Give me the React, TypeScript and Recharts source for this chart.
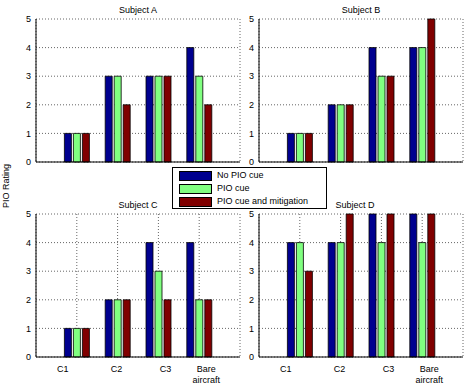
import { BarChart, Bar, XAxis, YAxis, CartesianGrid } from "recharts";

const CONFIGS = ["C1", "C2", "C3", "Bare\naircraft"];
const CONFIG_POS = [1, 2, 3, 4];
const X_TICKS = [0, 1, 2, 3, 4, 5];
const Y_TICKS = [0, 1, 2, 3, 4, 5];

const SERIES = ["No PIO cue", "PIO cue", "PIO cue and mitigation"];
const COLORS = ["#00008f", "#80ff80", "#800000"];

const subjectA_noCue = [1, 3, 3, 4];
const subjectA_cue = [1, 3, 3, 3];
const subjectA_mitig = [1, 2, 3, 2];

const subjectB_noCue = [1, 2, 4, 4];
const subjectB_cue = [1, 2, 3, 4];
const subjectB_mitig = [1, 2, 3, 5];

const subjectC_noCue = [1, 2, 4, 4];
const subjectC_cue = [1, 2, 3, 2];
const subjectC_mitig = [1, 2, 2, 2];

const subjectD_noCue = [4, 4, 5, 5];
const subjectD_cue = [4, 4, 4, 4];
const subjectD_mitig = [3, 5, 5, 5];

// label nudges, the original figure has them slightly off-centre
const LABEL_SHIFT = [-14, -1, 7, 7];

const FONT = "'Liberation Sans', Arial, sans-serif";
const GRID = "#666";

function rows(noCue: number[], cue: number[], mitig: number[]) {
  return CONFIG_POS.map((x, i) => ({ x, noCue: noCue[i], cue: cue[i], mitig: mitig[i] }));
}

function CatTick(props: any) {
  const { x, y, payload } = props;
  const i = CONFIG_POS.indexOf(payload.value);
  if (i < 0) return null;
  const lines = CONFIGS[i].split("\n");
  return (
    <text x={x + LABEL_SHIFT[i]} y={y + 6} textAnchor="middle" fontSize={9} fill="#000" fontFamily={FONT}>
      {lines.map((l, k) => (
        <tspan key={k} x={x + LABEL_SHIFT[i]} dy={k === 0 ? "0.8em" : "1.25em"}>
          {l}
        </tspan>
      ))}
    </text>
  );
}

function Panel({ data, left, top, showX }: { data: any[]; left: number; top: number; showX: boolean }) {
  return (
    <div style={{ position: "absolute", left, top }}>
      <BarChart
        width={245}
        height={192}
        data={data}
        margin={{ top: 19, right: 5, left: 0, bottom: 0 }}
        barSize={7}
        barGap={2}
      >
        <CartesianGrid stroke={GRID} strokeDasharray="1 2" />
        <XAxis
          dataKey="x"
          type="number"
          domain={[0, 5]}
          ticks={X_TICKS}
          interval={0}
          height={30}
          tickLine={false}
          tickSize={0}
          tick={showX ? <CatTick /> : false}
          axisLine={{ stroke: "#000" }}
        />
        <YAxis
          domain={[0, 5]}
          ticks={Y_TICKS}
          width={36}
          tickLine={false}
          tickSize={0}
          tickMargin={5}
          tick={{ fontSize: 9, fill: "#000", fontFamily: FONT }}
          axisLine={{ stroke: "#000" }}
        />
        <Bar dataKey="noCue" fill={COLORS[0]} stroke="#000" strokeWidth={0.8} isAnimationActive={false} />
        <Bar dataKey="cue" fill={COLORS[1]} stroke="#000" strokeWidth={0.8} isAnimationActive={false} />
        <Bar dataKey="mitig" fill={COLORS[2]} stroke="#000" strokeWidth={0.8} isAnimationActive={false} />
      </BarChart>
    </div>
  );
}

export default function App() {
  return (
    <div
      style={{
        position: "absolute",
        left: 0,
        top: 0,
        width: 474,
        height: 387,
        background: "#fff",
        fontFamily: FONT,
        overflow: "hidden",
      }}
    >
      <Panel data={rows(subjectA_noCue, subjectA_cue, subjectA_mitig)} left={0} top={0} showX={false} />
      <Panel data={rows(subjectB_noCue, subjectB_cue, subjectB_mitig)} left={223} top={0} showX={false} />
      <Panel data={rows(subjectC_noCue, subjectC_cue, subjectC_mitig)} left={0} top={195} showX={true} />
      <Panel data={rows(subjectD_noCue, subjectD_cue, subjectD_mitig)} left={223} top={195} showX={true} />

      <svg width={474} height={387} style={{ position: "absolute", left: 0, top: 0, pointerEvents: "none" }}>
        <g fontSize={9} fill="#000" fontFamily={FONT} textAnchor="middle">
          <text x={138} y={13}>Subject A</text>
          <text x={361} y={13}>Subject B</text>
          <text x={138} y={208}>Subject C</text>
          <text x={355} y={208}>Subject D</text>
          <text x={9} y={186} transform="rotate(-90 9 186)">PIO Rating</text>
        </g>
      </svg>

      <div
        style={{
          position: "absolute",
          left: 172,
          top: 167,
          width: 155,
          height: 42,
          border: "1px solid #000",
          background: "#fff",
          boxSizing: "border-box",
          padding: "1px 0 0 6px",
        }}
      >
        {SERIES.map((s, i) => (
          <div
            key={s}
            style={{ display: "flex", alignItems: "center", height: 13, fontSize: 9, lineHeight: "13px" }}
          >
            <span
              style={{
                display: "inline-block",
                width: 31,
                height: 8,
                background: COLORS[i],
                border: "1px solid #000",
                marginRight: 5,
                flexShrink: 0,
              }}
            />
            {s}
          </div>
        ))}
      </div>
    </div>
  );
}
